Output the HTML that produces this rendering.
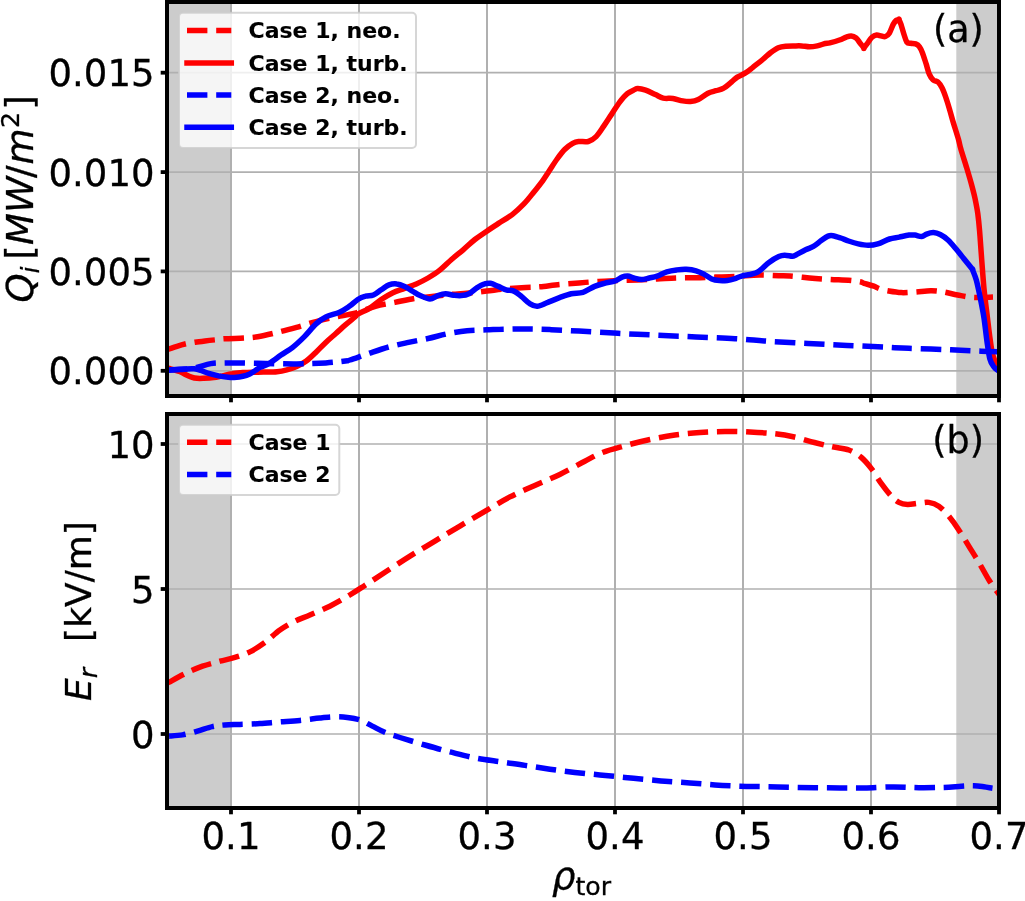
<!DOCTYPE html>
<html lang="en"><head><meta charset="utf-8"><title>Heat flux and radial electric field</title>
<style>html,body{margin:0;padding:0;background:#fff}body{width:1025px;height:901px;overflow:hidden}svg{display:block}text{stroke:#000;stroke-width:0.3px;font-family:"DejaVu Sans","Liberation Sans",sans-serif;fill:#000}.b{font-weight:bold;stroke-width:0.12px}.i{font-style:oblique}</style></head><body>
<svg width="1025" height="901" viewBox="0 0 1025 901">
<rect width="1025" height="901" fill="#fff"/>
<defs><clipPath id="ca"><rect x="167.0" y="2.0" width="832.0" height="394.0"/></clipPath>
<clipPath id="cb"><rect x="167.0" y="414.0" width="832.0" height="394.0"/></clipPath></defs>
<g clip-path="url(#ca)">
<rect x="167.0" y="2.0" width="64.0" height="394.0" fill="#808080" fill-opacity="0.4"/>
<rect x="956.3" y="2.0" width="42.7" height="394.0" fill="#808080" fill-opacity="0.4"/>
<line x1="231.0" x2="231.0" y1="2.0" y2="396.0" stroke="#b0b0b0" stroke-width="2.0"/>
<line x1="359.0" x2="359.0" y1="2.0" y2="396.0" stroke="#b0b0b0" stroke-width="2.0"/>
<line x1="487.0" x2="487.0" y1="2.0" y2="396.0" stroke="#b0b0b0" stroke-width="2.0"/>
<line x1="615.0" x2="615.0" y1="2.0" y2="396.0" stroke="#b0b0b0" stroke-width="2.0"/>
<line x1="743.0" x2="743.0" y1="2.0" y2="396.0" stroke="#b0b0b0" stroke-width="2.0"/>
<line x1="871.0" x2="871.0" y1="2.0" y2="396.0" stroke="#b0b0b0" stroke-width="2.0"/>
<line x1="999.0" x2="999.0" y1="2.0" y2="396.0" stroke="#b0b0b0" stroke-width="2.0"/>
<line x1="167.0" x2="999.0" y1="370.8" y2="370.8" stroke="#b0b0b0" stroke-width="1.7"/>
<line x1="167.0" x2="999.0" y1="271.4" y2="271.4" stroke="#b0b0b0" stroke-width="1.7"/>
<line x1="167.0" x2="999.0" y1="172.1" y2="172.1" stroke="#b0b0b0" stroke-width="1.7"/>
<line x1="167.0" x2="999.0" y1="72.7" y2="72.7" stroke="#b0b0b0" stroke-width="1.7"/>
<path d="M167.0 350.0 C167.4 349.8 167.6 349.6 169.3 349.0 C171.0 348.4 174.2 347.2 177.0 346.3 C179.8 345.4 183.3 344.4 186.3 343.7 C189.3 343.0 192.0 342.7 195.1 342.2 C198.2 341.7 201.6 341.3 205.0 340.9 C208.4 340.5 212.4 340.1 215.6 339.8 C218.8 339.5 219.6 339.1 224.4 338.8 C229.2 338.5 238.9 338.3 244.4 338.0 C249.9 337.7 252.2 337.7 257.6 336.8 C263.0 335.9 270.5 334.1 277.0 332.5 C283.5 330.9 290.1 329.1 296.6 327.3 C303.1 325.5 309.5 323.3 316.0 321.6 C322.5 319.9 329.1 318.4 335.6 317.0 C342.1 315.6 348.4 315.0 355.0 313.2 C361.6 311.4 368.8 308.1 375.4 306.3 C382.0 304.5 388.4 303.7 394.9 302.4 C401.4 301.1 407.9 299.5 414.4 298.5 C420.9 297.5 427.4 296.9 433.9 296.2 C440.4 295.5 446.9 294.8 453.4 294.2 C459.9 293.6 467.4 293.2 472.9 292.7 C478.4 292.2 481.1 291.8 486.6 291.1 C492.1 290.5 499.6 289.4 506.1 288.8 C512.6 288.2 520.0 287.7 525.6 287.4 C531.2 287.1 534.4 287.3 540.0 286.8 C545.6 286.3 553.0 285.1 559.5 284.5 C566.0 283.9 572.5 283.4 579.0 282.9 C585.5 282.4 592.0 281.8 598.5 281.4 C605.0 281.0 611.5 280.6 618.0 280.4 C624.5 280.2 631.1 280.2 637.6 280.0 C644.1 279.8 650.6 279.3 657.1 279.0 C663.6 278.7 670.1 278.2 676.6 278.0 C683.1 277.8 689.6 277.8 696.1 277.7 C702.6 277.6 709.1 277.3 715.6 277.1 C722.1 276.9 727.8 276.8 735.1 276.5 C742.4 276.2 752.0 275.2 759.3 275.1 C766.6 275.0 773.7 275.5 778.8 275.7 C783.9 275.9 784.9 275.7 790.0 276.1 C795.1 276.5 803.0 277.4 809.5 278.0 C816.0 278.6 822.5 279.0 829.0 279.4 C835.5 279.8 843.3 279.9 848.5 280.3 C853.7 280.7 857.6 281.3 860.2 281.8 C862.8 282.3 861.7 282.6 864.0 283.3 C866.3 284.0 871.3 285.3 873.9 286.2 C876.5 287.1 877.3 288.0 879.6 288.8 C881.9 289.6 884.0 290.2 887.6 290.8 C891.2 291.4 896.7 292.4 901.2 292.6 C905.8 292.8 910.0 292.3 914.9 292.0 C919.8 291.7 926.0 290.8 930.5 290.7 C935.0 290.6 937.6 291.0 942.1 291.7 C946.6 292.4 952.5 294.0 957.7 295.0 C962.9 296.0 967.5 297.2 973.4 297.5 C979.3 297.8 989.7 297.1 993.0 297.0" fill="none" stroke="#ff0000" stroke-width="5.5" stroke-linejoin="round" stroke-linecap="butt" stroke-dasharray="20.4 8.8" stroke-dashoffset="0.5"/>
<path d="M167.0 368.0 C167.4 368.1 167.2 367.9 169.3 368.5 C171.4 369.1 176.8 370.5 179.5 371.5 C182.2 372.5 183.3 373.4 185.4 374.4 C187.5 375.4 190.2 376.6 192.2 377.3 C194.1 378.0 195.1 378.1 197.1 378.3 C199.1 378.5 201.1 378.4 203.9 378.3 C206.7 378.2 210.6 378.0 213.7 377.6 C216.8 377.2 219.3 376.5 222.4 375.9 C225.5 375.2 228.8 374.2 232.2 373.7 C235.6 373.1 239.5 372.9 242.9 372.6 C246.3 372.4 249.3 372.3 252.7 372.2 C256.1 372.1 259.3 372.2 263.4 372.1 C267.4 372.0 273.1 372.1 277.0 371.7 C280.9 371.3 283.5 370.7 286.8 369.8 C290.1 368.9 293.4 367.9 296.6 366.4 C299.9 364.9 303.1 363.4 306.3 361.0 C309.5 358.6 312.8 355.3 316.0 352.2 C319.2 349.1 322.5 345.5 325.8 342.4 C329.1 339.3 332.3 336.6 335.6 333.7 C338.9 330.8 342.2 327.7 345.4 324.9 C348.6 322.1 352.9 318.8 355.0 317.0 C357.1 315.2 355.4 315.6 357.8 314.1 C360.2 312.7 365.6 310.7 369.5 308.3 C373.4 305.9 377.3 302.1 381.2 299.5 C385.1 296.9 389.0 294.6 392.9 292.7 C396.8 290.8 400.7 289.9 404.6 288.4 C408.5 286.9 412.4 285.6 416.3 283.9 C420.2 282.2 424.1 280.3 428.0 278.0 C431.9 275.7 435.9 273.3 439.8 270.2 C443.7 267.1 447.6 262.9 451.5 259.5 C455.4 256.1 459.3 253.1 463.2 249.8 C467.1 246.5 471.0 242.6 474.9 239.5 C478.8 236.4 482.9 233.9 486.8 231.2 C490.7 228.5 494.3 226.2 498.5 223.4 C502.7 220.6 508.0 217.8 512.2 214.6 C516.4 211.3 520.3 207.6 523.9 203.9 C527.5 200.2 530.8 195.8 533.7 192.2 C536.6 188.6 538.9 186.0 541.5 182.4 C544.1 178.8 546.7 174.6 549.3 170.7 C551.9 166.8 554.5 162.6 557.1 159.0 C559.7 155.4 562.3 151.9 564.9 149.3 C567.5 146.7 570.4 144.7 572.7 143.4 C575.0 142.1 575.9 141.8 578.5 141.5 C581.1 141.2 585.4 142.3 588.3 141.5 C591.2 140.7 593.5 139.2 596.1 136.6 C598.7 134.0 601.3 129.7 603.9 125.9 C606.5 122.2 609.1 118.0 611.7 114.1 C614.3 110.2 616.9 105.8 619.5 102.4 C622.1 99.0 624.7 95.9 627.3 93.7 C629.9 91.5 633.4 90.3 635.1 89.4 C636.9 88.5 636.0 88.3 637.8 88.4 C639.5 88.5 642.7 89.1 645.6 90.1 C648.5 91.1 652.5 93.3 655.4 94.6 C658.3 95.9 660.3 97.4 663.2 98.1 C666.1 98.8 669.6 98.0 672.9 98.5 C676.1 99.0 679.8 100.4 682.7 100.9 C685.6 101.4 687.9 101.7 690.5 101.5 C693.1 101.3 695.4 100.9 698.3 99.5 C701.2 98.1 705.1 94.8 708.0 93.3 C710.9 91.8 713.3 91.5 715.9 90.7 C718.5 89.9 721.1 89.7 723.7 88.2 C726.3 86.8 729.2 83.8 731.5 82.0 C733.8 80.2 735.0 78.6 737.3 77.1 C739.6 75.6 742.5 74.8 745.1 73.2 C747.7 71.6 750.0 69.6 752.9 67.3 C755.8 65.0 759.8 61.9 762.7 59.5 C765.6 57.1 767.9 54.7 770.5 52.7 C773.1 50.8 775.7 48.9 778.3 47.8 C780.9 46.7 783.2 46.5 786.1 46.2 C789.0 45.9 793.3 46.0 795.9 45.9 C798.5 45.8 799.4 45.8 801.7 45.9 C804.0 46.0 806.9 46.8 809.5 46.8 C812.1 46.8 814.7 46.4 817.3 45.9 C819.9 45.4 823.0 44.0 825.1 43.5 C827.2 43.0 827.4 43.5 829.8 42.9 C832.2 42.3 836.8 41.0 839.5 40.0 C842.2 39.0 844.3 37.8 846.3 37.1 C848.2 36.5 849.6 36.0 851.2 36.1 C852.8 36.2 854.6 36.9 856.1 38.0 C857.6 39.1 858.7 41.3 860.0 42.9 C861.3 44.5 863.2 47.0 863.9 47.8 C864.5 48.6 863.2 48.6 863.9 47.8 C864.5 47.0 866.5 44.6 867.8 42.9 C869.1 41.2 870.2 38.8 871.7 37.5 C873.2 36.2 875.0 35.3 876.6 35.1 C878.2 34.9 880.0 35.9 881.5 36.1 C883.0 36.3 884.1 37.0 885.4 36.5 C886.7 36.0 888.0 35.2 889.3 33.2 C890.6 31.2 892.1 26.5 893.2 24.4 C894.3 22.3 895.1 21.3 896.1 20.5 C897.1 19.7 898.5 19.7 899.0 19.5 C899.5 19.3 898.7 18.7 899.0 19.5 C899.3 20.3 900.2 22.0 901.0 24.4 C901.8 26.8 902.9 31.2 903.9 34.1 C904.9 37.0 905.7 40.5 906.8 42.0 C907.9 43.5 909.2 43.0 910.7 43.3 C912.2 43.6 914.1 43.3 915.6 43.9 C917.1 44.5 918.4 45.3 919.5 46.8 C920.6 48.3 921.3 49.8 922.4 52.7 C923.5 55.6 925.1 60.8 926.3 64.4 C927.4 68.0 928.1 71.5 929.3 74.1 C930.4 76.7 931.8 78.7 933.2 80.0 C934.7 81.3 936.5 80.7 938.0 82.0 C939.5 83.3 940.7 85.2 942.0 87.8 C943.3 90.4 944.6 93.9 945.9 97.6 C947.2 101.3 948.5 105.8 949.8 110.2 C951.1 114.6 952.2 119.0 953.7 123.9 C955.2 128.8 957.3 135.3 958.5 139.5 C959.7 143.7 959.4 144.1 960.8 148.8 C962.1 153.5 964.8 161.5 966.6 167.5 C968.4 173.5 970.2 179.5 971.6 184.8 C973.0 190.1 974.2 194.5 975.2 199.3 C976.2 204.1 977.1 208.4 977.8 213.7 C978.5 219.0 979.1 224.9 979.6 231.0 C980.1 237.1 980.3 240.4 981.0 250.0 C981.7 259.6 983.0 278.1 984.0 288.8 C985.0 299.5 986.0 306.0 987.0 314.1 C988.0 322.2 988.9 330.8 989.9 337.6 C990.9 344.4 991.5 350.4 992.8 355.1 C994.1 359.8 996.3 363.8 997.7 365.9 C999.1 368.0 1000.5 367.6 1001.0 368.0" fill="none" stroke="#ff0000" stroke-width="5.5" stroke-linejoin="round" stroke-linecap="square"/>
<path d="M167.0 370.4 C167.3 370.4 166.6 370.4 168.8 370.3 C171.0 370.2 175.6 370.0 180.0 369.6 C184.4 369.2 189.9 368.8 195.0 367.8 C200.1 366.8 205.8 364.4 210.7 363.6 C215.6 362.8 216.6 362.9 224.4 362.9 C232.2 362.8 245.6 363.1 257.6 363.3 C269.6 363.5 285.2 364.0 296.6 363.9 C308.0 363.8 317.7 363.4 325.8 362.9 C333.9 362.4 341.4 361.5 345.4 361.0 C349.4 360.5 346.0 361.3 350.0 360.0 C354.0 358.7 363.0 355.4 369.5 353.2 C376.0 351.0 382.5 348.7 389.0 346.9 C395.5 345.1 402.0 343.8 408.5 342.4 C415.0 341.0 421.5 339.9 428.0 338.5 C434.5 337.1 441.1 335.0 447.6 333.7 C454.1 332.4 460.6 331.3 467.1 330.7 C473.6 330.1 480.1 330.1 486.6 329.8 C493.1 329.6 499.6 329.3 506.1 329.2 C512.6 329.1 518.3 328.9 525.6 329.0 C532.9 329.1 541.1 329.2 550.0 329.6 C558.9 330.0 567.7 330.5 579.0 331.1 C590.3 331.7 605.0 332.6 618.0 333.3 C631.0 334.0 644.1 334.6 657.1 335.2 C670.1 335.8 683.1 336.4 696.1 337.0 C709.1 337.6 723.0 338.0 735.1 338.7 C747.2 339.4 756.9 340.5 769.0 341.3 C781.1 342.1 795.0 342.7 808.0 343.4 C821.0 344.1 834.1 344.8 847.1 345.4 C860.1 346.0 875.8 346.7 886.1 347.2 C896.4 347.7 898.6 347.9 908.9 348.3 C919.2 348.7 935.9 349.2 947.9 349.7 C959.9 350.2 972.2 350.8 981.1 351.2 C990.0 351.6 997.7 351.7 1001.0 351.8" fill="none" stroke="#0000ff" stroke-width="5.5" stroke-linejoin="round" stroke-linecap="butt" stroke-dasharray="20.4 8.8" stroke-dashoffset="0.0"/>
<path d="M167.0 370.2 C167.4 370.2 166.4 370.2 169.3 370.0 C172.2 369.8 180.3 369.2 184.4 369.0 C188.5 368.8 191.3 368.6 194.1 368.8 C196.9 369.1 198.6 369.7 201.0 370.5 C203.4 371.3 205.9 372.5 208.8 373.4 C211.7 374.3 215.2 375.2 218.5 375.9 C221.8 376.5 225.7 377.0 228.3 377.3 C230.9 377.6 231.7 377.7 234.1 377.5 C236.5 377.3 240.3 376.9 242.9 376.3 C245.5 375.7 247.7 374.9 249.8 373.9 C251.9 372.9 253.9 371.4 255.6 370.3 C257.3 369.2 257.7 368.6 260.0 367.4 C262.3 366.2 265.8 365.4 269.3 363.3 C272.8 361.2 277.1 357.8 281.0 355.1 C284.9 352.4 288.8 350.4 292.7 347.3 C296.6 344.2 300.5 340.5 304.4 336.6 C308.3 332.7 312.4 327.2 316.0 323.9 C319.6 320.6 321.9 318.9 325.8 317.0 C329.7 315.1 335.6 314.0 339.5 312.2 C343.4 310.4 346.2 308.4 349.3 306.3 C352.4 304.2 355.1 301.2 357.8 299.5 C360.5 297.8 363.0 296.9 365.6 296.2 C368.2 295.4 370.8 296.1 373.4 295.0 C376.0 293.9 378.6 291.5 381.2 289.8 C383.8 288.1 386.4 285.9 389.0 284.9 C391.6 283.9 394.2 283.6 396.8 283.9 C399.4 284.1 402.0 285.2 404.6 286.4 C407.2 287.6 409.8 289.6 412.4 291.1 C415.0 292.6 417.3 294.3 420.2 295.6 C423.1 296.9 427.1 298.9 430.0 298.9 C432.9 298.9 435.2 296.5 437.8 295.6 C440.4 294.7 443.0 293.8 445.6 293.7 C448.2 293.6 450.8 294.9 453.4 295.2 C456.0 295.5 458.6 295.9 461.2 295.6 C463.8 295.4 466.4 295.0 469.0 293.7 C471.6 292.4 474.2 289.4 476.8 287.8 C479.4 286.2 482.3 284.6 484.6 283.9 C486.9 283.1 488.2 282.9 490.5 283.3 C492.8 283.7 495.7 285.3 498.3 286.4 C500.9 287.5 503.5 289.0 506.1 289.8 C508.7 290.6 511.3 290.0 513.9 291.1 C516.5 292.2 519.1 294.6 521.7 296.6 C524.3 298.7 526.9 301.8 529.5 303.4 C532.1 305.0 534.2 306.5 537.3 306.3 C540.3 306.1 544.1 303.8 547.8 302.4 C551.5 300.9 555.6 299.1 559.5 297.6 C563.4 296.2 567.3 294.6 571.2 293.7 C575.1 292.8 579.0 293.5 582.9 292.3 C586.8 291.1 591.0 287.9 594.6 286.4 C598.2 284.9 601.0 284.2 604.4 283.3 C607.8 282.4 612.2 282.0 615.1 281.0 C618.0 280.0 619.9 277.9 622.0 277.1 C624.1 276.3 625.8 276.0 627.8 276.1 C629.8 276.2 631.4 277.4 633.7 278.0 C636.0 278.6 638.9 279.6 641.5 279.6 C644.1 279.6 646.7 278.6 649.3 278.0 C651.9 277.4 654.2 277.1 657.1 276.1 C660.0 275.1 663.5 272.8 666.8 271.8 C670.0 270.8 673.4 270.3 676.6 269.9 C679.9 269.5 683.0 269.1 686.3 269.3 C689.5 269.5 693.2 270.0 696.1 270.8 C699.0 271.6 701.3 272.7 703.9 274.1 C706.5 275.5 709.1 277.9 711.7 279.0 C714.3 280.1 716.9 280.4 719.5 280.6 C722.1 280.8 724.7 280.7 727.3 280.4 C729.9 280.1 732.7 279.3 735.1 278.6 C737.5 277.9 738.0 277.2 741.7 276.1 C745.4 275.0 752.8 274.5 757.3 272.2 C761.8 269.9 765.4 265.0 769.0 262.4 C772.6 259.8 776.2 257.8 778.8 256.6 C781.4 255.4 782.3 255.3 784.6 255.2 C786.9 255.1 790.5 256.2 792.4 256.2 C794.3 256.2 793.7 256.1 795.9 255.0 C798.1 253.9 802.7 251.2 805.6 249.8 C808.5 248.4 810.8 247.9 813.4 246.4 C816.0 244.9 818.8 242.3 821.2 240.6 C823.6 238.9 826.0 236.9 828.0 236.1 C830.0 235.3 830.8 235.4 832.9 235.7 C835.0 236.0 838.1 237.1 840.7 238.0 C843.3 238.9 845.6 240.0 848.5 241.0 C851.4 242.0 855.0 243.2 858.3 243.9 C861.5 244.6 864.8 245.3 868.0 245.3 C871.2 245.3 874.2 245.0 877.8 243.9 C881.4 242.8 885.9 240.1 889.5 239.0 C893.1 237.9 896.0 237.8 899.3 237.1 C902.5 236.4 906.4 235.4 909.0 235.1 C911.6 234.8 912.8 234.9 914.9 235.1 C917.0 235.3 919.8 236.7 921.7 236.5 C923.7 236.3 924.7 234.8 926.6 234.1 C928.5 233.4 931.1 232.5 933.4 232.6 C935.7 232.7 937.8 233.3 940.2 234.5 C942.6 235.7 945.4 237.6 948.0 240.0 C950.6 242.4 953.3 245.7 955.9 248.8 C958.5 251.9 961.0 255.1 963.7 258.5 C966.5 261.9 971.0 267.5 972.4 269.3 C973.8 271.1 971.8 267.5 972.4 269.3 C973.0 271.1 975.0 275.3 976.3 280.0 C977.6 284.7 978.9 291.3 980.2 297.6 C981.5 303.9 982.9 310.7 984.0 318.0 C985.1 325.3 986.0 334.7 987.0 341.5 C988.0 348.3 988.8 354.8 989.9 359.0 C991.0 363.2 992.5 364.9 993.8 366.8 C995.1 368.7 996.5 369.4 997.7 370.3 C998.9 371.2 1000.5 371.7 1001.0 372.0" fill="none" stroke="#0000ff" stroke-width="5.5" stroke-linejoin="round" stroke-linecap="square"/>
</g>
<line x1="231.0" x2="231.0" y1="396.0" y2="402.3" stroke="#000" stroke-width="3.8"/>
<line x1="359.0" x2="359.0" y1="396.0" y2="402.3" stroke="#000" stroke-width="3.8"/>
<line x1="487.0" x2="487.0" y1="396.0" y2="402.3" stroke="#000" stroke-width="3.8"/>
<line x1="615.0" x2="615.0" y1="396.0" y2="402.3" stroke="#000" stroke-width="3.8"/>
<line x1="743.0" x2="743.0" y1="396.0" y2="402.3" stroke="#000" stroke-width="3.8"/>
<line x1="871.0" x2="871.0" y1="396.0" y2="402.3" stroke="#000" stroke-width="3.8"/>
<line x1="999.0" x2="999.0" y1="396.0" y2="402.3" stroke="#000" stroke-width="3.8"/>
<line x1="160.7" x2="167.0" y1="370.8" y2="370.8" stroke="#000" stroke-width="3.8"/>
<line x1="160.7" x2="167.0" y1="271.4" y2="271.4" stroke="#000" stroke-width="3.8"/>
<line x1="160.7" x2="167.0" y1="172.1" y2="172.1" stroke="#000" stroke-width="3.8"/>
<line x1="160.7" x2="167.0" y1="72.7" y2="72.7" stroke="#000" stroke-width="3.8"/>
<rect x="167.0" y="2.0" width="832.0" height="394.0" fill="none" stroke="#000" stroke-width="4"/>
<text x="154.5" y="384.4" font-size="37.00" text-anchor="end">0.000</text>
<text x="154.5" y="285.0" font-size="37.00" text-anchor="end">0.005</text>
<text x="154.5" y="185.7" font-size="37.00" text-anchor="end">0.010</text>
<text x="154.5" y="86.3" font-size="37.00" text-anchor="end">0.015</text>
<g clip-path="url(#cb)">
<rect x="167.0" y="414.0" width="64.0" height="394.0" fill="#808080" fill-opacity="0.4"/>
<rect x="956.3" y="414.0" width="42.7" height="394.0" fill="#808080" fill-opacity="0.4"/>
<line x1="231.0" x2="231.0" y1="414.0" y2="808.0" stroke="#b0b0b0" stroke-width="2.0"/>
<line x1="359.0" x2="359.0" y1="414.0" y2="808.0" stroke="#b0b0b0" stroke-width="2.0"/>
<line x1="487.0" x2="487.0" y1="414.0" y2="808.0" stroke="#b0b0b0" stroke-width="2.0"/>
<line x1="615.0" x2="615.0" y1="414.0" y2="808.0" stroke="#b0b0b0" stroke-width="2.0"/>
<line x1="743.0" x2="743.0" y1="414.0" y2="808.0" stroke="#b0b0b0" stroke-width="2.0"/>
<line x1="871.0" x2="871.0" y1="414.0" y2="808.0" stroke="#b0b0b0" stroke-width="2.0"/>
<line x1="999.0" x2="999.0" y1="414.0" y2="808.0" stroke="#b0b0b0" stroke-width="2.0"/>
<line x1="167.0" x2="999.0" y1="734.0" y2="734.0" stroke="#b0b0b0" stroke-width="1.7"/>
<line x1="167.0" x2="999.0" y1="589.0" y2="589.0" stroke="#b0b0b0" stroke-width="1.7"/>
<line x1="167.0" x2="999.0" y1="444.0" y2="444.0" stroke="#b0b0b0" stroke-width="1.7"/>
<path d="M167.0 683.4 C167.3 683.2 165.7 684.0 168.7 682.4 C171.7 680.8 179.4 676.4 185.0 673.7 C190.6 671.0 196.7 668.3 202.5 666.2 C208.3 664.1 214.5 662.7 219.9 661.2 C225.3 659.7 229.9 659.0 234.9 657.4 C239.9 655.8 244.9 654.4 249.9 651.9 C254.9 649.4 259.9 646.0 264.9 642.4 C269.9 638.8 274.9 633.5 279.9 630.0 C284.9 626.5 289.9 623.7 294.9 621.2 C299.9 618.7 304.1 617.5 309.9 615.0 C315.7 612.5 323.1 609.5 329.8 606.2 C336.5 602.9 344.0 598.5 349.8 595.0 C355.6 591.5 358.9 589.3 364.8 585.5 C370.7 581.7 377.5 577.2 385.0 572.3 C392.5 567.4 401.7 561.3 410.0 556.1 C418.3 550.9 426.6 546.1 434.9 541.1 C443.2 536.1 451.1 531.3 459.9 526.1 C468.6 520.9 479.1 514.8 487.4 509.9 C495.7 505.0 502.0 501.0 509.9 496.9 C517.8 492.8 526.5 489.1 534.8 485.4 C543.1 481.6 551.5 478.4 559.8 474.4 C568.1 470.4 577.7 464.8 584.8 461.2 C591.9 457.6 595.8 455.1 602.5 452.5 C609.2 449.9 617.1 447.9 625.0 445.7 C632.9 443.5 641.7 441.3 650.0 439.5 C658.3 437.7 666.6 436.2 674.9 435.0 C683.2 433.8 691.6 433.1 699.9 432.5 C708.2 431.9 716.6 431.6 724.9 431.5 C733.2 431.4 741.6 431.6 749.9 432.0 C758.2 432.4 767.4 432.9 774.8 433.7 C782.2 434.5 787.8 435.5 794.4 437.0 C801.0 438.5 808.0 440.9 814.4 442.5 C820.8 444.1 826.8 445.6 832.5 446.8 C838.2 448.1 844.1 448.2 848.9 450.0 C853.7 451.8 857.6 454.4 861.4 457.5 C865.1 460.6 868.1 464.3 871.4 468.7 C874.7 473.1 878.1 479.1 881.4 483.7 C884.7 488.3 888.5 493.1 891.4 496.2 C894.3 499.3 896.2 501.0 898.9 502.4 C901.6 503.8 904.3 504.3 907.6 504.4 C910.9 504.5 915.4 503.5 918.9 503.2 C922.4 502.9 925.5 501.9 928.8 502.4 C932.1 502.9 935.5 503.9 938.8 506.2 C942.1 508.5 945.5 512.1 948.8 516.1 C952.1 520.1 955.5 524.9 958.8 529.9 C962.1 534.9 965.5 540.7 968.8 546.1 C972.1 551.5 975.5 556.7 978.8 562.3 C982.1 567.9 985.7 574.8 988.8 579.8 C991.9 584.8 995.5 589.4 997.5 592.3 C999.5 595.2 1000.4 596.2 1001.0 597.0" fill="none" stroke="#ff0000" stroke-width="5.5" stroke-linejoin="round" stroke-linecap="butt" stroke-dasharray="20.4 8.8" stroke-dashoffset="1.0"/>
<path d="M167.0 736.1 C167.3 736.1 166.1 736.3 168.7 736.1 C171.3 735.9 177.7 735.7 182.5 734.9 C187.3 734.1 192.5 732.5 197.5 731.1 C202.5 729.7 207.8 727.6 212.4 726.6 C217.0 725.6 220.3 725.3 224.9 724.9 C229.5 724.5 234.1 724.6 239.9 724.4 C245.7 724.2 253.2 724.0 259.9 723.6 C266.6 723.2 273.2 722.4 279.9 721.9 C286.6 721.4 293.2 721.0 299.9 720.4 C306.5 719.8 314.0 718.7 319.8 718.1 C325.6 717.5 330.2 717.0 334.8 716.9 C339.4 716.8 343.1 716.9 347.3 717.4 C351.5 717.9 355.6 718.4 359.8 719.9 C364.0 721.4 368.1 724.0 372.3 726.1 C376.5 728.2 380.2 730.4 384.8 732.3 C389.4 734.2 393.3 735.4 400.0 737.5 C406.7 739.6 416.7 742.6 425.0 745.0 C433.3 747.4 441.7 749.8 450.0 751.9 C458.3 754.0 466.6 756.3 474.9 757.9 C483.2 759.5 491.6 760.5 499.9 761.7 C508.2 763.0 516.6 764.1 524.9 765.4 C533.2 766.6 541.6 768.0 549.9 769.2 C558.2 770.4 566.5 771.5 574.8 772.4 C583.1 773.3 591.5 774.1 599.8 774.9 C608.1 775.7 616.4 776.6 624.8 777.4 C633.2 778.2 643.3 779.2 650.0 779.8 C656.7 780.4 658.3 780.7 665.0 781.2 C671.7 781.7 681.7 782.3 690.0 782.9 C698.3 783.5 706.6 784.3 714.9 784.9 C723.2 785.5 731.6 785.9 739.9 786.2 C748.2 786.5 756.6 786.5 764.9 786.7 C773.2 786.9 781.6 787.0 789.9 787.2 C798.2 787.4 806.5 787.6 814.8 787.7 C823.1 787.8 831.5 787.9 839.8 787.9 C848.1 787.9 855.8 788.1 864.8 787.9 C873.8 787.7 884.9 786.9 893.9 786.9 C902.9 786.9 910.6 787.6 918.9 787.7 C927.2 787.8 936.7 787.6 943.8 787.4 C950.9 787.1 956.3 786.5 961.3 786.2 C966.3 785.9 970.0 785.6 973.8 785.7 C977.5 785.8 980.7 786.3 983.8 786.7 C986.9 787.1 991.0 788.0 992.5 788.2" fill="none" stroke="#0000ff" stroke-width="5.5" stroke-linejoin="round" stroke-linecap="butt" stroke-dasharray="20.4 8.8" stroke-dashoffset="1.5"/>
</g>
<line x1="231.0" x2="231.0" y1="808.0" y2="814.3" stroke="#000" stroke-width="3.8"/>
<line x1="359.0" x2="359.0" y1="808.0" y2="814.3" stroke="#000" stroke-width="3.8"/>
<line x1="487.0" x2="487.0" y1="808.0" y2="814.3" stroke="#000" stroke-width="3.8"/>
<line x1="615.0" x2="615.0" y1="808.0" y2="814.3" stroke="#000" stroke-width="3.8"/>
<line x1="743.0" x2="743.0" y1="808.0" y2="814.3" stroke="#000" stroke-width="3.8"/>
<line x1="871.0" x2="871.0" y1="808.0" y2="814.3" stroke="#000" stroke-width="3.8"/>
<line x1="999.0" x2="999.0" y1="808.0" y2="814.3" stroke="#000" stroke-width="3.8"/>
<line x1="160.7" x2="167.0" y1="734.0" y2="734.0" stroke="#000" stroke-width="3.8"/>
<line x1="160.7" x2="167.0" y1="589.0" y2="589.0" stroke="#000" stroke-width="3.8"/>
<line x1="160.7" x2="167.0" y1="444.0" y2="444.0" stroke="#000" stroke-width="3.8"/>
<rect x="167.0" y="414.0" width="832.0" height="394.0" fill="none" stroke="#000" stroke-width="4"/>
<text x="154.5" y="747.6" font-size="37.00" text-anchor="end">0</text>
<text x="154.5" y="602.6" font-size="37.00" text-anchor="end">5</text>
<text x="154.5" y="457.6" font-size="37.00" text-anchor="end">10</text>
<text x="231.0" y="849.3" font-size="37.00" text-anchor="middle">0.1</text>
<text x="359.0" y="849.3" font-size="37.00" text-anchor="middle">0.2</text>
<text x="487.0" y="849.3" font-size="37.00" text-anchor="middle">0.3</text>
<text x="615.0" y="849.3" font-size="37.00" text-anchor="middle">0.4</text>
<text x="743.0" y="849.3" font-size="37.00" text-anchor="middle">0.5</text>
<text x="871.0" y="849.3" font-size="37.00" text-anchor="middle">0.6</text>
<text x="999.0" y="849.3" font-size="37.00" text-anchor="middle">0.7</text>
<rect x="179.0" y="12.7" width="237.0" height="135.3" rx="4" ry="4" fill="#fff" fill-opacity="0.8" stroke="#ccc" stroke-opacity="0.8" stroke-width="2"/>
<line x1="187.0" x2="231.3" y1="30.5" y2="30.5" stroke="#ff0000" stroke-width="5.5" stroke-linecap="butt" stroke-dasharray="20.4 8.8"/>
<text class="b" x="248.5" y="38.3" font-size="22.00">Case 1, neo.</text>
<line x1="187.0" x2="231.3" y1="63.0" y2="63.0" stroke="#ff0000" stroke-width="5.5" stroke-linecap="square"/>
<text class="b" x="248.5" y="70.8" font-size="22.00">Case 1, turb.</text>
<line x1="187.0" x2="231.3" y1="95.0" y2="95.0" stroke="#0000ff" stroke-width="5.5" stroke-linecap="butt" stroke-dasharray="20.4 8.8"/>
<text class="b" x="248.5" y="102.8" font-size="22.00">Case 2, neo.</text>
<line x1="187.0" x2="231.3" y1="127.3" y2="127.3" stroke="#0000ff" stroke-width="5.5" stroke-linecap="square"/>
<text class="b" x="248.5" y="135.1" font-size="22.00">Case 2, turb.</text>
<rect x="179.0" y="424.7" width="160.3" height="70.3" rx="4" ry="4" fill="#fff" fill-opacity="0.8" stroke="#ccc" stroke-opacity="0.8" stroke-width="2"/>
<line x1="187.0" x2="231.3" y1="442.2" y2="442.2" stroke="#ff0000" stroke-width="5.5" stroke-linecap="butt" stroke-dasharray="20.4 8.8"/>
<text class="b" x="248.5" y="450.0" font-size="22.00">Case 1</text>
<line x1="187.0" x2="231.3" y1="474.5" y2="474.5" stroke="#0000ff" stroke-width="5.5" stroke-linecap="butt" stroke-dasharray="20.4 8.8"/>
<text class="b" x="248.5" y="482.3" font-size="22.00">Case 2</text>
<text x="983.8" y="41.6" font-size="36.50" text-anchor="end">(a)</text>
<text x="983.9" y="453.4" font-size="36.50" text-anchor="end">(b)</text>
<text transform="translate(33,302.5) rotate(-90)" font-size="37.00"><tspan class="i">Q</tspan><tspan class="i" dx="0.0" dy="6" font-size="25.2">i</tspan><tspan dx="6.6" dy="-6">[</tspan><tspan class="i" dx="0.3">MW</tspan><tspan dx="-1.5">/</tspan><tspan class="i" dx="1.0">m</tspan><tspan dx="0.4" dy="-13.8" font-size="25.2">2</tspan><tspan dx="2.4" dy="13.8">]</tspan></text>
<text transform="translate(90.5,701.0) rotate(-90)" font-size="36.00"><tspan class="i">E</tspan><tspan class="i" dy="6" font-size="25.2">r</tspan><tspan dx="26.0" dy="-6">[kV/m]</tspan></text>
<text x="581.5" y="888.5" font-size="37.00" text-anchor="middle"><tspan class="i">ρ</tspan><tspan dy="6" font-size="25.2">tor</tspan></text>
</svg></body></html>
